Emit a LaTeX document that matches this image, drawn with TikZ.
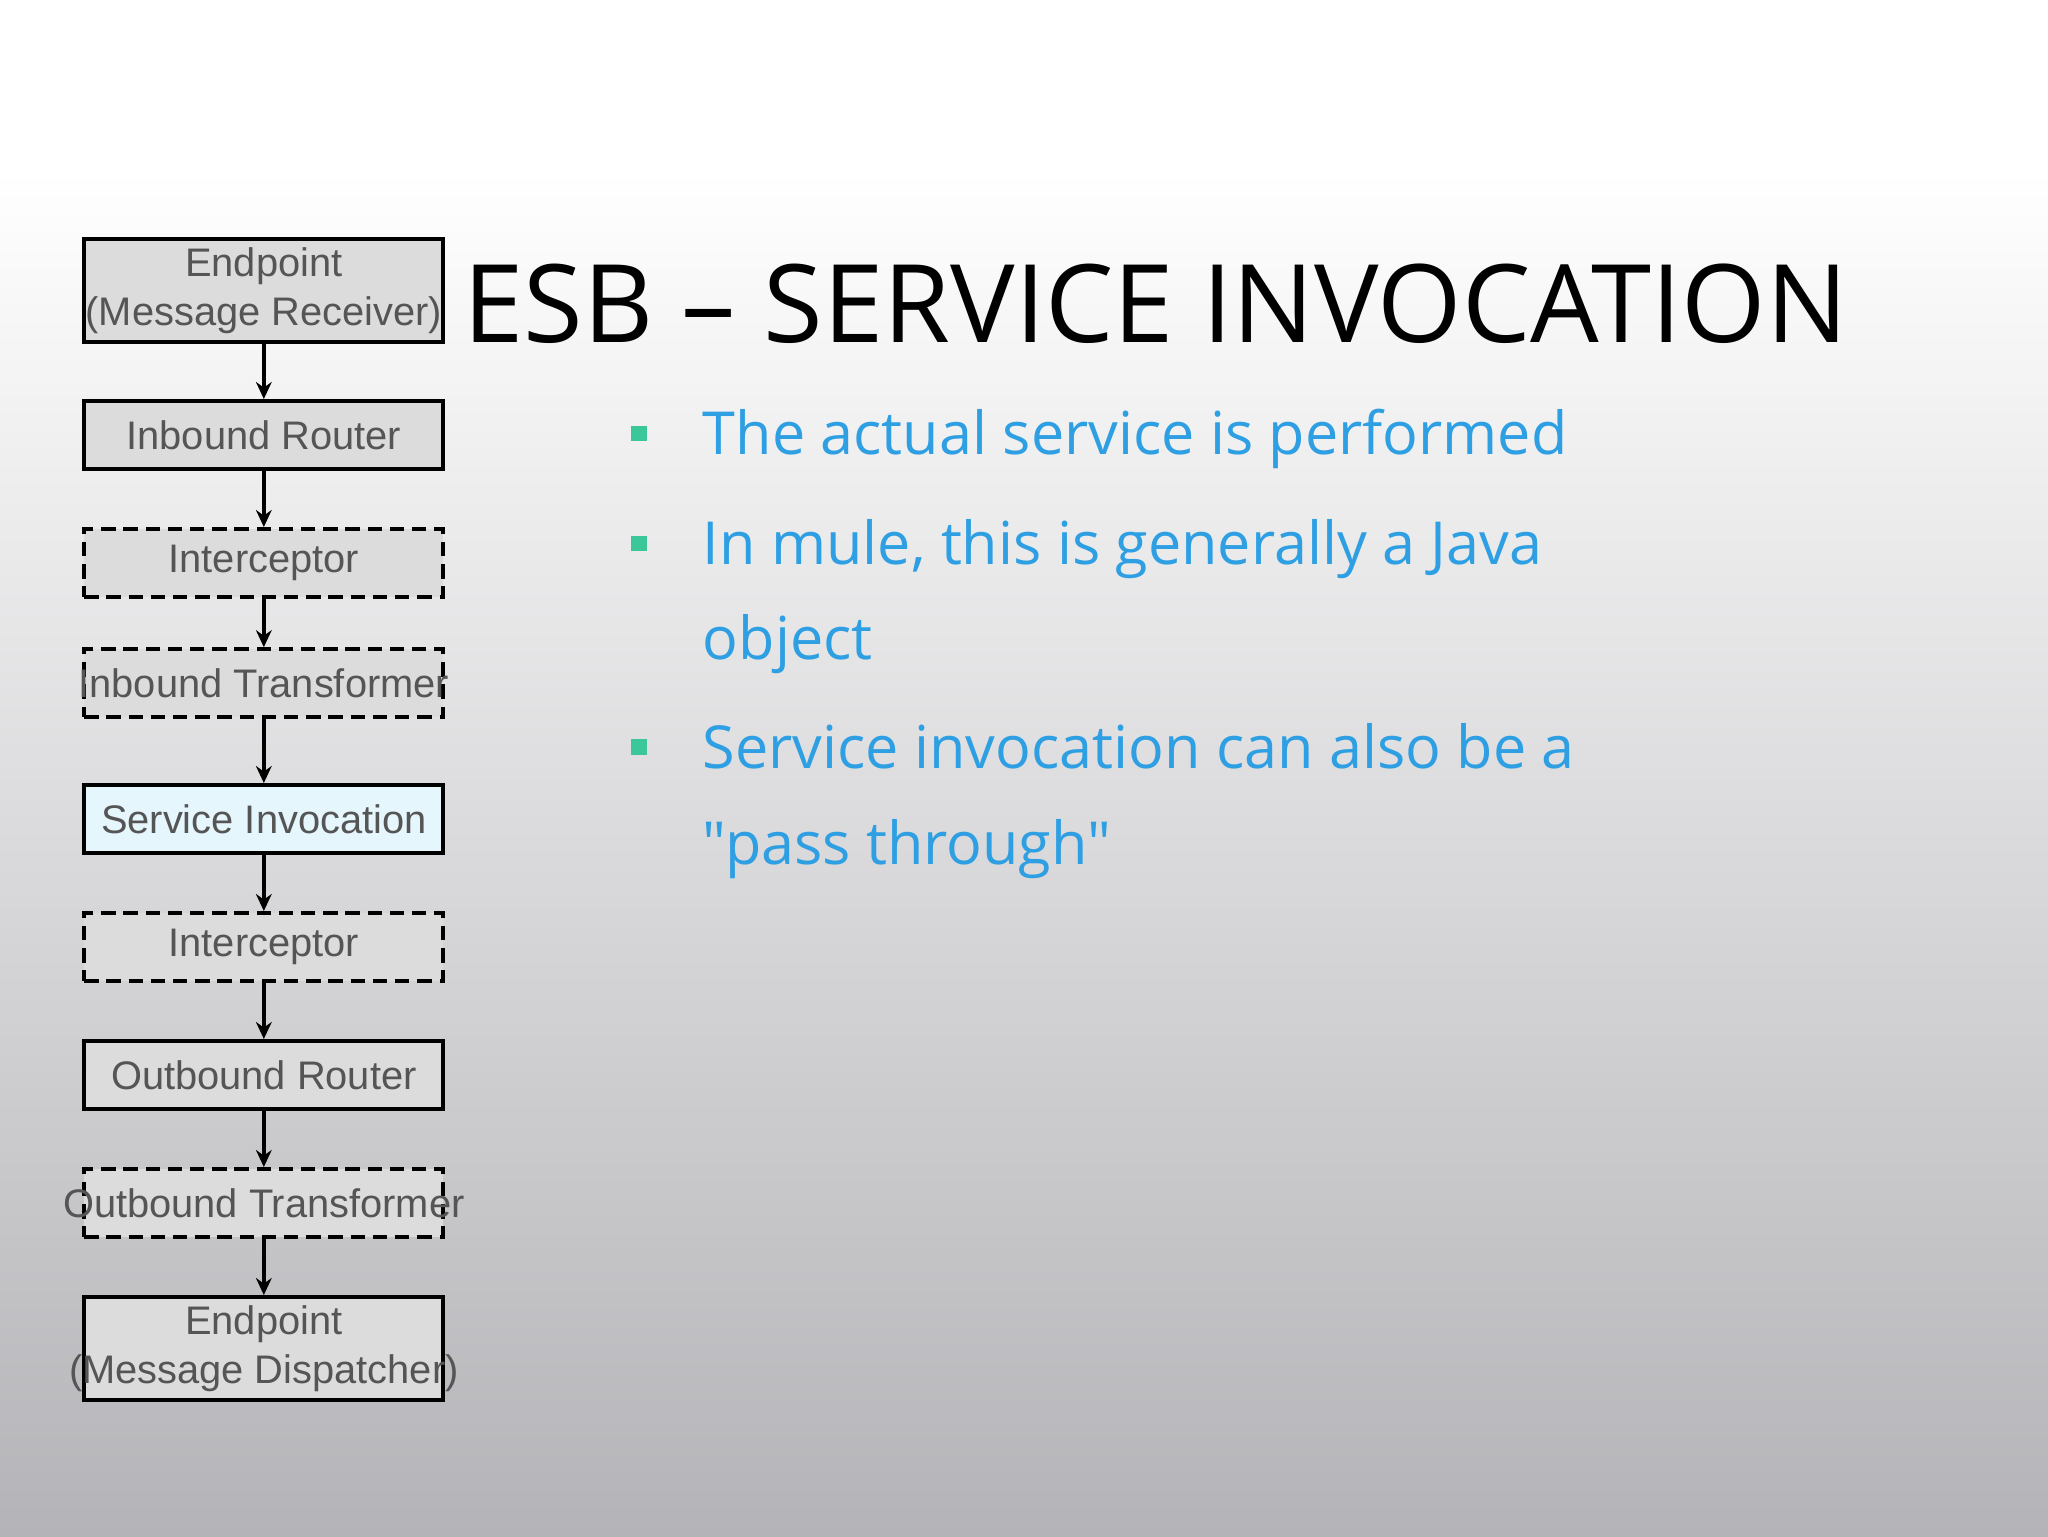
\documentclass[tikz,border=0pt]{standalone}
\usepackage{fontspec}
\setmainfont{Liberation Sans}
\newfontfamily\titlefont{Open Sans}
\usetikzlibrary{arrows.meta}
\definecolor{bgbot}{HTML}{B4B3B7}
\definecolor{boxfill}{HTML}{DCDCDC}
\definecolor{boxtext}{HTML}{555555}
\definecolor{svcfill}{HTML}{E6F6FD}
\definecolor{bluetext}{HTML}{2E9FE2}
\definecolor{bulletc}{HTML}{3CC79A}
\newcommand\cl[1]{\makebox[0pt]{#1}}
\tikzset{
  stage/.style={draw=black, line width=3pt, fill=boxfill, minimum width=275pt, minimum height=52pt, inner sep=0pt, text=boxtext, font=\fontsize{30.5}{37}\selectfont, align=center},
  dstage/.style={stage, dash pattern=on 11pt off 6pt},
  flow/.style={line width=3.5pt, -{Stealth[length=13pt,width=12pt]}},
  btext/.style={anchor=base west, text=bluetext, font=\titlefont\fontsize{45.4}{50}\selectfont, inner sep=0pt},
  bmark/.style={fill=bulletc, minimum size=12pt, inner sep=0pt}
}
\begin{document}
\begin{tikzpicture}[x=1pt,y=-1pt]
\useasboundingbox (0,0) rectangle (1568,1176);
\shade[top color=white, bottom color=bgbot] (0,130) rectangle (1568,1176);
\fill[white] (0,0) rectangle (1568,130.5);
\node[anchor=base east, inner sep=0pt, font=\titlefont\fontsize{83}{90}\selectfont] (title) at (1415,262) {MULE ESB – SERVICE INVOCATION};
\node[stage, minimum height=79pt] (s1) at (202,222.5) {\cl{Endpoint}\\\cl{(Message Receiver)}};
\node[stage] (s2) at (202,333) {\cl{Inbound Router}};
\node[dstage] (s3) at (202,431) {\cl{Interceptor}};
\node[dstage] (s4) at (202,523) {\cl{Inbound Transformer}};
\node[stage, fill=svcfill] (s5) at (202,627) {\cl{Service Invocation}};
\node[dstage] (s6) at (202,725) {\cl{Interceptor}};
\node[stage] (s7) at (202,823) {\cl{Outbound Router}};
\node[dstage] (s8) at (202,921) {\cl{Outbound Transformer}};
\node[stage, minimum height=79pt] (s9) at (202,1032.5) {\cl{Endpoint}\\\cl{(Message Dispatcher)}};
\foreach \a/\b in {s1/s2,s2/s3,s3/s4,s4/s5,s5/s6,s6/s7,s7/s8,s8/s9}
  \draw[flow] (\a.south) -- (\b.north);
\node[bmark] (m1) at (489,332) {};
\node[bmark] (m2) at (489,416) {};
\node[bmark] (m3) at (489,572) {};
\node[btext] (b1) at (538,348) {The actual service is performed};
\node[btext] (b2) at (538,432) {In mule, this is generally a Java};
\node[btext] (b2b) at (538,505) {object};
\node[btext] (b3) at (538,588) {Service invocation can also be a};
\node[btext] (b3b) at (538,662) {"pass through"};
\end{tikzpicture}
\end{document}
